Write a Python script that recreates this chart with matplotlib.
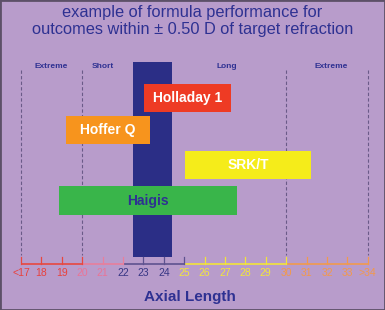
import matplotlib.pyplot as plt
from matplotlib.patches import Rectangle

plt.rcParams['font.family'] = ['Liberation Sans', 'DejaVu Sans']

# formula ranges along axial length (mm)
formulas = ['Holladay 1', 'Hoffer Q', 'SRK/T', 'Haigis']
starts = [23.05, 19.2, 25.05, 18.85]
ends = [27.3, 23.3, 31.2, 27.6]
bar_colors = ['#ee3b24', '#f7941d', '#f5ec1a', '#39b54a']
text_colors = ['white', 'white', 'white', '#2e3192']

# average eye band
band = (22.5, 24.4)

# axis ticks and coloured segments
tick_vals = list(range(17, 35))
tick_text = ['<17'] + [str(v) for v in range(18, 34)] + ['>34']
seg_edges = [17, 20, 22, 25, 30, 34]
seg_colors = ['#e8473f', '#e87f9c', '#5e5290', '#f2e43a', '#f19a4e']
label_colors = ['#e8413c', '#ea7496', '#363584', '#f3e63a', '#f3994a']

zones = ['Extreme', 'Short', 'Long', 'Extreme']
zone_x = [18.5, 21.0, 27.1, 32.2]
dividers = [17, 20, 30, 34]

bg = '#b89ccb'
navy = '#2e3192'

def seg_index(v):
    for i in range(len(seg_edges) - 1):
        if v < seg_edges[i + 1]:
            return i
    return len(seg_edges) - 2

fig = plt.figure(figsize=(3.85, 3.1), dpi=100, facecolor=bg)
ax = fig.add_axes([0, 0, 1, 1], facecolor=bg)
px = 20.4  # pixels per mm
ax.set_xlim(17 - 21 / px, 17 + 364 / px)
ax.set_ylim(310, 0)
ax.axis('off')

# title
fig.text(0.5, 1 - 13 / 310, 'example of formula performance for',
         ha='center', va='center', fontsize=11.8, color=navy)
fig.text(0.5, 1 - 29.5 / 310, 'outcomes within \u00b1 0.50 D of target refraction',
         ha='center', va='center', fontsize=11.8, color=navy)

# zone dividers
for d in dividers:
    ax.plot([d, d], [70, 255], ls=(0, (3, 2)), lw=0.8, color='#6a5a88')
for z, zx in zip(zones, zone_x):
    ax.text(zx, 67, z, ha='center', va='center', fontsize=6,
            fontweight='bold', color=navy)

# average band
ax.add_patch(Rectangle((band[0], 62), band[1] - band[0], 195,
                       facecolor='#2b2e86', edgecolor='none', zorder=2))

# formula bars
row_y = [98, 130, 165, 200.5]
for name, s, e, c, tc, y in zip(formulas, starts, ends, bar_colors, text_colors, row_y):
    ax.barh(y, e - s, left=s, height=28.5, color=c, edgecolor='none', zorder=3)
    ax.text((s + e) / 2, y, name, ha='center', va='center', fontsize=10,
            fontweight='bold', color=tc, zorder=4)

# axis
for i in range(len(seg_edges) - 1):
    ax.plot([seg_edges[i], seg_edges[i + 1]], [264, 264], color=seg_colors[i],
            lw=1.2, solid_capstyle='butt')
for v, t in zip(tick_vals, tick_text):
    k = seg_index(v)
    if v in (20, 22, 25, 30):
        c_tick = seg_colors[seg_edges.index(v) - 1]
    else:
        c_tick = seg_colors[k]
    ax.plot([v, v], [257, 264], color=c_tick, lw=0.9)
    ax.text(v, 273.5, t, ha='center', va='center', fontsize=7.5, color=label_colors[k])

ax.text(25.3, 297, 'Axial Length',
        ha='center', va='center', fontsize=11, fontweight='bold', color=navy)

# frame
fig.patches.append(Rectangle((0, 0), 1, 1, transform=fig.transFigure, fill=False,
                             edgecolor='#5c5068', lw=2))

fig.savefig('out.png', dpi=100, facecolor=bg)
